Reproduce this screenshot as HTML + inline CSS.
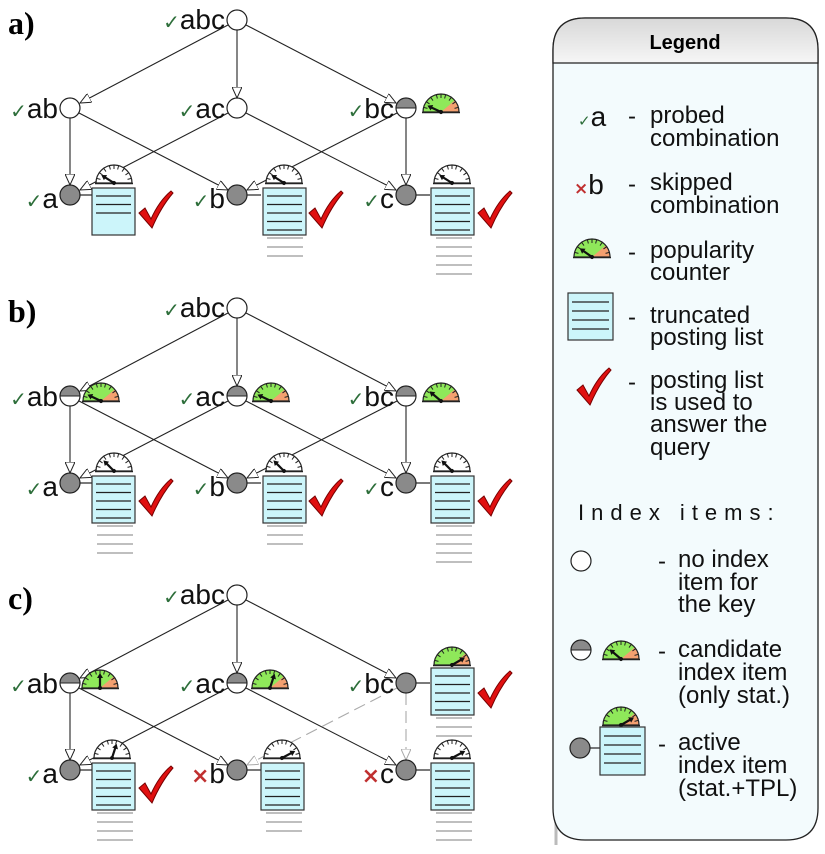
<!DOCTYPE html>
<html><head><meta charset="utf-8"><style>html,body{margin:0;padding:0;background:#fff}svg{display:block}</style></head><body>
<svg width="825" height="854" viewBox="0 0 825 854" xmlns="http://www.w3.org/2000/svg" font-family="Liberation Sans, sans-serif">
<defs>
<marker id="ar" markerWidth="12" markerHeight="10" refX="11" refY="5" orient="auto" markerUnits="userSpaceOnUse"><path d="M0,0 L11,5 L0,10 Z" fill="#fff" stroke="#222" stroke-width="1"/></marker>
<marker id="arg" markerWidth="12" markerHeight="10" refX="11" refY="5" orient="auto" markerUnits="userSpaceOnUse"><path d="M0,0 L11,5 L0,10 Z" fill="#fff" stroke="#aaa" stroke-width="1"/></marker>
<g id="ticks" stroke="#222" stroke-width="1"><line x1="14" y1="0" x2="18" y2="0" transform="rotate(-15)"/><line x1="14" y1="0" x2="18" y2="0" transform="rotate(-35)"/><line x1="14" y1="0" x2="18" y2="0" transform="rotate(-55)"/><line x1="14" y1="0" x2="18" y2="0" transform="rotate(-75)"/><line x1="14" y1="0" x2="18" y2="0" transform="rotate(-90)"/><line x1="14" y1="0" x2="18" y2="0" transform="rotate(-105)"/><line x1="14" y1="0" x2="18" y2="0" transform="rotate(-125)"/><line x1="14" y1="0" x2="18" y2="0" transform="rotate(-145)"/><line x1="14" y1="0" x2="18" y2="0" transform="rotate(-165)"/></g>
<g id="gW"><path d="M-18,0 A18,18 0 0 1 18,0 Z" fill="#fff" stroke="#222" stroke-width="1.2"/><use href="#ticks"/><line x1="-19" y1="0.5" x2="19" y2="0.5" stroke="#222" stroke-width="1.5"/></g>
<g id="gC"><path d="M-18,0 A18,18 0 0 1 18,0 Z" fill="#8fe85a"/><path d="M0,0 L18,0 A18,18 0 0 0 13.8,-11.6 Z" fill="#f4a070"/><path d="M-18,0 A18,18 0 0 1 18,0 Z" fill="none" stroke="#222" stroke-width="1.2"/><use href="#ticks"/><line x1="-19" y1="0.5" x2="19" y2="0.5" stroke="#222" stroke-width="1.5"/></g>
<g id="nd"><line x1="0" y1="0" x2="13" y2="0" stroke="#111" stroke-width="2.2"/><path d="M15,0 L10,-3 L10,3 Z" fill="#111"/><circle r="2" fill="#111"/></g>
<g id="box"><rect x="0" y="0" width="43" height="47" fill="#ccf5fa" stroke="#333" stroke-width="1.2"/><g stroke="#222" stroke-width="1.2"><line x1="4" y1="8" x2="39" y2="8"/><line x1="4" y1="16.5" x2="39" y2="16.5"/><line x1="4" y1="25" x2="39" y2="25"/><line x1="4" y1="33.5" x2="39" y2="33.5"/><line x1="4" y1="42" x2="39" y2="42"/></g></g>
<g id="box3"><rect x="0" y="0" width="43" height="47" fill="#ccf5fa" stroke="#333" stroke-width="1.2"/><g stroke="#222" stroke-width="1.2"><line x1="4" y1="8" x2="39" y2="8"/><line x1="4" y1="16.5" x2="39" y2="16.5"/><line x1="4" y1="25" x2="39" y2="25"/></g></g>
<path id="chk" d="M0,20 L6,15 L12,26 Q20,8 32,-2 L34,0 Q22,14 13,35 Z" fill="#e01010" stroke="#700" stroke-width="1"/>
<circle id="cW" r="10" fill="#fff" stroke="#222" stroke-width="1.2"/>
<circle id="cA" r="10" fill="#8a8a8a" stroke="#222" stroke-width="1.2"/>
<g id="cH"><circle r="10" fill="#fff"/><path d="M-10,0 A10,10 0 0 1 10,0 Z" fill="#8a8a8a"/><circle r="10" fill="none" stroke="#222" stroke-width="1.2"/><line x1="-10" y1="0" x2="10" y2="0" stroke="#222"/></g>
<g id="t3" stroke="#999" stroke-width="1.3"><line x1="0" y1="0" x2="36" y2="0"/><line x1="0" y1="9" x2="36" y2="9"/><line x1="0" y1="18" x2="36" y2="18"/></g>
<g id="t4" stroke="#999" stroke-width="1.3"><line x1="0" y1="0" x2="36" y2="0"/><line x1="0" y1="9" x2="36" y2="9"/><line x1="0" y1="18" x2="36" y2="18"/><line x1="0" y1="27" x2="36" y2="27"/></g>
<g id="t5" stroke="#999" stroke-width="1.3"><line x1="0" y1="0" x2="36" y2="0"/><line x1="0" y1="9" x2="36" y2="9"/><line x1="0" y1="18" x2="36" y2="18"/><line x1="0" y1="27" x2="36" y2="27"/><line x1="0" y1="36" x2="36" y2="36"/></g>
<g id="edgesTop" stroke="#222" stroke-width="1.1" fill="none" marker-end="url(#ar)"><line x1="228" y1="25" x2="80" y2="103"/><line x1="237" y1="30" x2="237" y2="98"/><line x1="246" y1="25" x2="396" y2="103"/><line x1="70" y1="118" x2="70" y2="185"/><line x1="79" y1="113" x2="228" y2="190"/><line x1="228" y1="113" x2="80" y2="190"/><line x1="246" y1="113" x2="396" y2="190"/></g>
<g id="links" stroke="#222" stroke-width="1.2"><line x1="80" y1="195" x2="94" y2="195"/><line x1="247" y1="195" x2="261" y2="195"/><line x1="416" y1="195" x2="430" y2="195"/></g>
<g id="lblsTop" font-size="28" fill="#111" text-anchor="end">
<text x="225" y="29"><tspan fill="#2d6e3a" font-size="20" font-family="DejaVu Sans">✓</tspan>abc</text>
<text x="58" y="118"><tspan fill="#2d6e3a" font-size="20" font-family="DejaVu Sans">✓</tspan>ab</text>
<text x="225" y="118"><tspan fill="#2d6e3a" font-size="20" font-family="DejaVu Sans">✓</tspan>ac</text>
<text x="394" y="118"><tspan fill="#2d6e3a" font-size="20" font-family="DejaVu Sans">✓</tspan>bc</text>
</g>
</defs>

<!-- Panel a -->
<g>
<text x="8" y="34" font-family="Liberation Serif, serif" font-weight="bold" font-size="32">a)</text>
<use href="#edgesTop"/>
<g stroke="#222" stroke-width="1.1" fill="none" marker-end="url(#ar)"><line x1="397" y1="113" x2="247" y2="190"/><line x1="406" y1="118" x2="406" y2="185"/></g>
<use href="#links"/>
<use href="#cW" x="237" y="20"/><use href="#cW" x="70" y="108"/><use href="#cW" x="237" y="108"/><use href="#cH" x="406" y="108"/>
<use href="#cA" x="70" y="195"/><use href="#cA" x="237" y="195"/><use href="#cA" x="406" y="195"/>
<g transform="translate(441,112)"><use href="#gC"/><use href="#nd" transform="rotate(-155)"/></g>
<g transform="translate(114,183)"><use href="#gW"/><use href="#nd" transform="rotate(-148)"/></g>
<g transform="translate(284,183)"><use href="#gW"/><use href="#nd" transform="rotate(-148)"/></g>
<g transform="translate(452,183)"><use href="#gW"/><use href="#nd" transform="rotate(-148)"/></g>
<use href="#box3" x="92" y="188"/><use href="#box" x="263" y="188"/><use href="#box" x="431" y="188"/>
<use href="#t3" x="267" y="238"/><use href="#t5" x="436" y="238"/>
<use href="#chk" x="139" y="193"/><use href="#chk" x="309" y="193"/><use href="#chk" x="478" y="193"/>
<use href="#lblsTop"/>
<g font-size="28" fill="#111" text-anchor="end">
<text x="58" y="208"><tspan fill="#2d6e3a" font-size="20" font-family="DejaVu Sans">✓</tspan>a</text>
<text x="225" y="208"><tspan fill="#2d6e3a" font-size="20" font-family="DejaVu Sans">✓</tspan>b</text>
<text x="394" y="208"><tspan fill="#2d6e3a" font-size="20" font-family="DejaVu Sans">✓</tspan>c</text>
</g>
</g>

<!-- Panel b -->
<g transform="translate(0,288)">
<text x="8" y="34" font-family="Liberation Serif, serif" font-weight="bold" font-size="32">b)</text>
<use href="#edgesTop"/>
<g stroke="#222" stroke-width="1.1" fill="none" marker-end="url(#ar)"><line x1="397" y1="113" x2="247" y2="190"/><line x1="406" y1="118" x2="406" y2="185"/></g>
<use href="#links"/>
<use href="#cW" x="237" y="20"/><use href="#cH" x="70" y="108"/><use href="#cH" x="237" y="108"/><use href="#cH" x="406" y="108"/>
<use href="#cA" x="70" y="195"/><use href="#cA" x="237" y="195"/><use href="#cA" x="406" y="195"/>
<g transform="translate(101,113)"><use href="#gC"/><use href="#nd" transform="rotate(-155)"/></g>
<g transform="translate(271,113)"><use href="#gC"/><use href="#nd" transform="rotate(-155)"/></g>
<g transform="translate(441,113)"><use href="#gC"/><use href="#nd" transform="rotate(-140)"/></g>
<g transform="translate(114,183)"><use href="#gW"/><use href="#nd" transform="rotate(-135)"/></g>
<g transform="translate(284,183)"><use href="#gW"/><use href="#nd" transform="rotate(-135)"/></g>
<g transform="translate(452,183)"><use href="#gW"/><use href="#nd" transform="rotate(-135)"/></g>
<use href="#box" x="92" y="188"/><use href="#box" x="263" y="188"/><use href="#box" x="431" y="188"/>
<use href="#t4" x="97" y="238"/><use href="#t3" x="267" y="238"/><use href="#t5" x="436" y="238"/>
<use href="#chk" x="139" y="193"/><use href="#chk" x="309" y="193"/><use href="#chk" x="478" y="193"/>
<use href="#lblsTop"/>
<g font-size="28" fill="#111" text-anchor="end">
<text x="58" y="208"><tspan fill="#2d6e3a" font-size="20" font-family="DejaVu Sans">✓</tspan>a</text>
<text x="225" y="208"><tspan fill="#2d6e3a" font-size="20" font-family="DejaVu Sans">✓</tspan>b</text>
<text x="394" y="208"><tspan fill="#2d6e3a" font-size="20" font-family="DejaVu Sans">✓</tspan>c</text>
</g>
</g>

<!-- Panel c -->
<g transform="translate(0,575)">
<text x="8" y="34" font-family="Liberation Serif, serif" font-weight="bold" font-size="32">c)</text>
<use href="#edgesTop"/>
<g stroke="#aaa" stroke-width="1.1" fill="none" stroke-dasharray="12,6" marker-end="url(#arg)"><line x1="397" y1="113" x2="247" y2="190"/><line x1="406" y1="118" x2="406" y2="185"/></g>
<use href="#links"/>
<line x1="416" y1="108" x2="430" y2="108" stroke="#222" stroke-width="1.2"/>
<use href="#cW" x="237" y="20"/><use href="#cH" x="70" y="108"/><use href="#cH" x="237" y="108"/><use href="#cA" x="406" y="108"/>
<use href="#cA" x="70" y="195"/><use href="#cA" x="237" y="195"/><use href="#cA" x="406" y="195"/>
<g transform="translate(100,113)"><use href="#gC"/><use href="#nd" transform="rotate(-90)"/></g>
<g transform="translate(270,113)"><use href="#gC"/><use href="#nd" transform="rotate(-72)"/></g>
<g transform="translate(452,90)"><use href="#gC"/><use href="#nd" transform="rotate(-30)"/></g>
<use href="#box" x="431" y="93"/><use href="#t3" x="436" y="143"/>
<use href="#chk" x="478" y="98"/>
<g transform="translate(112,183)"><use href="#gW"/><use href="#nd" transform="rotate(-72)"/></g>
<g transform="translate(282,183)"><use href="#gW"/><use href="#nd" transform="rotate(-28)"/></g>
<g transform="translate(452,183)"><use href="#gW"/><use href="#nd" transform="rotate(-28)"/></g>
<use href="#box" x="92" y="188"/><use href="#box" x="261" y="188"/><use href="#box" x="431" y="188"/>
<use href="#t4" x="97" y="238"/><use href="#t3" x="266" y="238"/><use href="#t4" x="436" y="238"/>
<use href="#chk" x="139" y="193"/>
<use href="#lblsTop"/>
<g font-size="28" fill="#111" text-anchor="end">
<text x="58" y="208"><tspan fill="#2d6e3a" font-size="20" font-family="DejaVu Sans">✓</tspan>a</text>
<text x="225" y="208"><tspan fill="#c03030" font-size="22" font-weight="bold" font-family="DejaVu Sans">×</tspan>b</text>
<text x="394" y="208"><tspan fill="#c03030" font-size="22" font-weight="bold" font-family="DejaVu Sans">×</tspan>c</text>
</g>
</g>

<!-- Legend -->
<defs><linearGradient id="hg" x1="0" y1="0" x2="0" y2="1"><stop offset="0" stop-color="#d8d8d8"/><stop offset="1" stop-color="#f6f6f6"/></linearGradient></defs>
<path d="M556,845 L556,70" stroke="#bbb" stroke-width="3" fill="none"/>
<path d="M553,63 L553,50 Q553,18 585,18 L786,18 Q818,18 818,50 L818,808 Q818,840 786,840 L585,840 Q553,840 553,808 Z" fill="#f3fbfd" stroke="#222" stroke-width="1.3"/>
<path d="M553,63 L553,50 Q553,18 585,18 L786,18 Q818,18 818,50 L818,63 Z" fill="url(#hg)" stroke="#222" stroke-width="1.3"/>
<text x="685" y="49" text-anchor="middle" font-weight="bold" font-size="20">Legend</text>
<g font-size="24" fill="#111">
<text x="578" y="126"><tspan fill="#2d6e3a" font-size="15" font-family="DejaVu Sans">✓</tspan><tspan font-size="28">a</tspan></text>
<text x="628" y="124">-</text><text x="650" y="123">probed</text><text x="650" y="146">combination</text>
<text x="574" y="194"><tspan fill="#c03030" font-size="17" font-weight="bold" font-family="DejaVu Sans">×</tspan><tspan font-size="28">b</tspan></text>
<text x="628" y="192">-</text><text x="650" y="190">skipped</text><text x="650" y="213">combination</text>
<g transform="translate(592,257)"><use href="#gC"/><use href="#nd" transform="rotate(-145)"/></g>
<text x="628" y="260">-</text><text x="650" y="258">popularity</text><text x="650" y="280">counter</text>
<g transform="translate(568,293)"><rect width="45" height="47" fill="#ccf5fa" stroke="#333" stroke-width="1.2"/><g stroke="#222" stroke-width="1.2"><line x1="4" y1="9" x2="41" y2="9"/><line x1="4" y1="18" x2="41" y2="18"/><line x1="4" y1="27" x2="41" y2="27"/><line x1="4" y1="36" x2="41" y2="36"/></g></g>
<text x="628" y="325">-</text><text x="650" y="323">truncated</text><text x="650" y="345">posting list</text>
<use href="#chk" x="577" y="370"/>
<text x="628" y="390">-</text><text x="650" y="388">posting list</text><text x="650" y="410">is used to</text><text x="650" y="432">answer the</text><text x="650" y="455">query</text>
<text x="578" y="520" font-size="22" letter-spacing="7">Index items:</text>
<text x="658" y="569">-</text><text x="678" y="567">no index</text><text x="678" y="590">item for</text><text x="678" y="612">the key</text>
<text x="658" y="659">-</text><text x="678" y="657">candidate</text><text x="678" y="680">index item</text><text x="678" y="703">(only stat.)</text>
<text x="658" y="752">-</text><text x="678" y="750">active</text><text x="678" y="773">index item</text><text x="678" y="796">(stat.+TPL)</text>
</g>
<use href="#cW" x="581" y="561"/>
<use href="#cH" x="581" y="650"/>
<g transform="translate(621,659)"><use href="#gC"/><use href="#nd" transform="rotate(-140)"/></g>
<line x1="590" y1="748" x2="601" y2="748" stroke="#222" stroke-width="1.2"/>
<use href="#cA" x="580" y="748"/>
<g transform="translate(621,725)"><use href="#gC"/><use href="#nd" transform="rotate(-30)"/></g>
<g transform="translate(600,727)"><rect width="45" height="48" fill="#ccf5fa" stroke="#333" stroke-width="1.2"/><g stroke="#222" stroke-width="1.2"><line x1="4" y1="9" x2="41" y2="9"/><line x1="4" y1="18" x2="41" y2="18"/><line x1="4" y1="27" x2="41" y2="27"/><line x1="4" y1="36" x2="41" y2="36"/></g></g>
</svg>
</body></html>
